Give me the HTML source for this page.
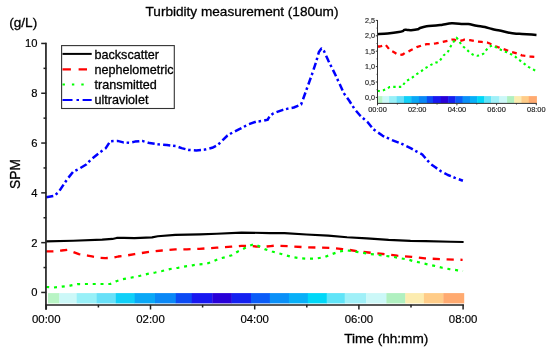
<!DOCTYPE html>
<html><head><meta charset="utf-8"><title>Turbidity measurement</title>
<style>html,body{margin:0;padding:0;background:#fff;}body{width:550px;height:350px;overflow:hidden;}svg{display:block;}</style>
</head><body>
<svg width="550" height="350" viewBox="0 0 550 350">
<rect width="550" height="350" fill="#fff"/>
<text x="242" y="16.1" font-size="13.6" text-anchor="middle" font-family="Liberation Sans, Arial, sans-serif" stroke="#000" stroke-width="0.3" fill="#000">Turbidity measurement (180um)</text>
<text x="23.2" y="27.3" font-size="13.6" text-anchor="middle" font-family="Liberation Sans, Arial, sans-serif" stroke="#000" stroke-width="0.3" fill="#000">(g/L)</text>
<text transform="translate(20.4,174) rotate(-90)" font-size="13.8" text-anchor="middle" font-family="Liberation Sans, Arial, sans-serif" stroke="#000" stroke-width="0.3" fill="#000">SPM</text>
<text x="344.2" y="342.6" font-size="13.6" text-anchor="start" font-family="Liberation Sans, Arial, sans-serif" stroke="#000" stroke-width="0.3" fill="#000">Time (hh:mm)</text>
<rect x="48.00" y="293.10" width="11.60" height="10.30" fill="#b8f4c4"/><rect x="59.30" y="293.10" width="17.70" height="10.30" fill="#ccf8f8"/><rect x="76.70" y="293.10" width="20.30" height="10.30" fill="#98f0f8"/><rect x="96.70" y="293.10" width="19.40" height="10.30" fill="#68e0f8"/><rect x="115.80" y="293.10" width="19.20" height="10.30" fill="#10d0f8"/><rect x="134.70" y="293.10" width="20.60" height="10.30" fill="#0aa8f6"/><rect x="155.00" y="293.10" width="21.10" height="10.30" fill="#0a88f6"/><rect x="175.80" y="293.10" width="16.30" height="10.30" fill="#0c4af4"/><rect x="191.80" y="293.10" width="20.80" height="10.30" fill="#1818f0"/><rect x="212.30" y="293.10" width="19.60" height="10.30" fill="#2800d8"/><rect x="231.60" y="293.10" width="19.60" height="10.30" fill="#1420f0"/><rect x="250.90" y="293.10" width="19.20" height="10.30" fill="#0a5cf8"/><rect x="269.80" y="293.10" width="19.40" height="10.30" fill="#0a90f8"/><rect x="288.90" y="293.10" width="19.20" height="10.30" fill="#08b0f8"/><rect x="307.80" y="293.10" width="19.20" height="10.30" fill="#00d8f8"/><rect x="326.70" y="293.10" width="18.30" height="10.30" fill="#60e4f8"/><rect x="344.70" y="293.10" width="21.70" height="10.30" fill="#a0f0f8"/><rect x="366.10" y="293.10" width="20.60" height="10.30" fill="#ccf8f8"/><rect x="386.40" y="293.10" width="19.20" height="10.30" fill="#b0f0c0"/><rect x="405.30" y="293.10" width="18.90" height="10.30" fill="#fcecb0"/><rect x="423.90" y="293.10" width="19.70" height="10.30" fill="#ffcc88"/><rect x="443.30" y="293.10" width="20.90" height="10.30" fill="#ffaa70"/>
<polyline points="46.2,241.4 73.1,240.7 102.2,239.6 112.4,238.9 116.7,237.9 124.0,237.9 134.5,238.1 152.0,237.4 157.8,236.3 175.3,234.9 200.0,234.4 216.8,233.7 241.5,232.6 270.0,233.1 284.5,233.1 306.4,234.5 328.2,235.6 347.0,237.2 366.8,238.4 388.6,239.9 410.5,240.9 425.5,241.1 450.9,241.7 463.6,242.0" fill="none" stroke="#000" stroke-width="2.1" stroke-linejoin="round"/>
<polyline points="46.2,251.3 52.7,251.3 61.5,250.5 67.3,249.8 73.1,252.0 78.9,254.2 87.6,255.6 92.0,256.4 99.3,257.8 105.1,258.1 112.4,257.8 118.2,256.5 125.1,255.8 134.5,254.1 149.1,251.9 162.2,250.5 175.3,249.4 186.9,249.4 199.4,248.8 216.8,247.7 231.4,246.7 241.5,245.8 247.4,245.8 256.1,246.5 263.4,246.8 270.6,246.1 274.4,245.7 288.9,246.2 304.9,247.2 319.5,247.6 334.0,248.1 342.7,249.1 348.5,249.8 356.6,251.1 368.3,252.5 382.8,254.0 397.4,255.7 411.9,256.9 425.0,258.4 431.2,258.7 446.5,259.4 462.6,259.8" fill="none" stroke="#ff0000" stroke-width="2.3" stroke-dasharray="7.2 6.7" stroke-linejoin="round"/>
<polyline points="46.2,287.0 53.9,287.5 61.7,286.7 70.2,285.6 77.5,284.1 85.5,284.0 93.5,284.0 101.9,284.0 110.2,284.0 116.4,281.2 122.5,279.2 129.0,278.0 136.0,276.8 140.4,275.7 147.6,273.9 155.2,272.5 162.2,271.0 169.7,269.1 177.9,267.8 185.5,266.3 192.5,265.3 199.1,264.3 206.4,263.9 213.2,261.4 219.3,258.6 227.3,256.8 231.8,255.2 237.5,251.7 243.0,249.0 248.8,246.1 253.9,244.2 259.7,246.5 265.5,249.4 272.1,251.5 279.5,253.5 285.7,255.3 292.5,257.1 299.8,258.3 307.8,258.8 316.5,258.5 324.5,257.1 332.5,253.9 339.1,251.6 347.2,250.4 354.5,251.5 362.2,252.8 370.0,254.0 378.5,255.0 385.4,255.9 393.7,256.9 401.2,258.4 409.1,259.8 412.6,261.0 420.6,262.7 428.3,264.5 434.6,265.9 442.3,267.8 449.6,269.1 457.5,270.3 463.0,271.0" fill="none" stroke="#00ff00" stroke-width="2.2" stroke-dasharray="3 4.8" stroke-linejoin="round"/>
<polyline points="46.2,197.3 54.2,195.8 58.5,192.2 62.9,185.6 67.3,179.1 73.1,171.8 78.9,168.9 86.2,164.5 92.0,158.7 99.3,152.9 105.8,148.2 110.2,141.3 117.5,140.9 123.3,142.4 129.1,142.8 134.9,141.6 142.2,140.9 149.5,143.1 158.2,144.3 166.9,145.0 175.7,146.0 181.6,148.1 188.9,150.0 196.2,150.4 204.9,149.6 212.2,147.8 218.0,144.9 222.4,140.5 227.5,135.5 232.5,132.5 239.8,128.9 248.6,124.3 256.0,121.7 261.8,121.0 267.6,119.8 269.8,115.9 273.5,113.3 282.2,110.1 288.0,108.6 293.8,107.5 301.1,104.5 303.4,98.3 307.7,86.3 312.0,74.3 316.3,61.4 318.9,52.0 321.4,48.6 324.0,51.1 328.3,60.6 334.3,72.6 339.5,83.7 343.7,93.0 349.1,100.5 354.7,109.2 360.3,115.7 367.7,122.2 373.4,129.3 382.7,135.8 392.0,140.1 401.2,143.6 410.6,148.2 416.4,151.4 422.1,154.3 426.4,159.3 430.7,164.0 435.0,167.1 440.7,171.1 447.9,175.0 455.0,177.9 462.9,180.7" fill="none" stroke="#0000ff" stroke-width="2.5" stroke-dasharray="7.2 2.8 2.5 3.2" stroke-linejoin="round"/>
<line x1="45.95" y1="42.8" x2="45.95" y2="309.8" stroke="#222" stroke-width="1.7"/>
<line x1="45.5" y1="305.0" x2="463.9" y2="305.0" stroke="#222" stroke-width="1.7"/>
<line x1="41.2" y1="292.45" x2="46.3" y2="292.45" stroke="#222" stroke-width="1.5"/>
<text x="37.4" y="296.35" font-size="11.2" text-anchor="end" font-family="Liberation Sans, Arial, sans-serif" stroke="#000" stroke-width="0.18" fill="#000">0</text>
<line x1="41.2" y1="242.65" x2="46.3" y2="242.65" stroke="#222" stroke-width="1.5"/>
<text x="37.4" y="246.55" font-size="11.2" text-anchor="end" font-family="Liberation Sans, Arial, sans-serif" stroke="#000" stroke-width="0.18" fill="#000">2</text>
<line x1="41.2" y1="192.85" x2="46.3" y2="192.85" stroke="#222" stroke-width="1.5"/>
<text x="37.4" y="196.75" font-size="11.2" text-anchor="end" font-family="Liberation Sans, Arial, sans-serif" stroke="#000" stroke-width="0.18" fill="#000">4</text>
<line x1="41.2" y1="143.05" x2="46.3" y2="143.05" stroke="#222" stroke-width="1.5"/>
<text x="37.4" y="146.95" font-size="11.2" text-anchor="end" font-family="Liberation Sans, Arial, sans-serif" stroke="#000" stroke-width="0.18" fill="#000">6</text>
<line x1="41.2" y1="93.25" x2="46.3" y2="93.25" stroke="#222" stroke-width="1.5"/>
<text x="37.4" y="97.15" font-size="11.2" text-anchor="end" font-family="Liberation Sans, Arial, sans-serif" stroke="#000" stroke-width="0.18" fill="#000">8</text>
<line x1="41.2" y1="43.45" x2="46.3" y2="43.45" stroke="#222" stroke-width="1.5"/>
<text x="37.4" y="47.35" font-size="11.2" text-anchor="end" font-family="Liberation Sans, Arial, sans-serif" stroke="#000" stroke-width="0.18" fill="#000">10</text>
<line x1="43.5" y1="267.55" x2="46.3" y2="267.55" stroke="#222" stroke-width="1.5"/>
<line x1="43.5" y1="217.75" x2="46.3" y2="217.75" stroke="#222" stroke-width="1.5"/>
<line x1="43.5" y1="167.95" x2="46.3" y2="167.95" stroke="#222" stroke-width="1.5"/>
<line x1="43.5" y1="118.15" x2="46.3" y2="118.15" stroke="#222" stroke-width="1.5"/>
<line x1="43.5" y1="68.35" x2="46.3" y2="68.35" stroke="#222" stroke-width="1.5"/>
<line x1="46.30" y1="304.8" x2="46.30" y2="309.5" stroke="#222" stroke-width="1.5"/>
<text x="46.30" y="322.9" font-size="11.4" text-anchor="middle" font-family="Liberation Sans, Arial, sans-serif" stroke="#000" stroke-width="0.18" fill="#000">00:00</text>
<line x1="98.40" y1="304.8" x2="98.40" y2="307.5" stroke="#222" stroke-width="1.5"/>
<line x1="150.50" y1="304.8" x2="150.50" y2="309.5" stroke="#222" stroke-width="1.5"/>
<text x="150.50" y="322.9" font-size="11.4" text-anchor="middle" font-family="Liberation Sans, Arial, sans-serif" stroke="#000" stroke-width="0.18" fill="#000">02:00</text>
<line x1="202.60" y1="304.8" x2="202.60" y2="307.5" stroke="#222" stroke-width="1.5"/>
<line x1="254.70" y1="304.8" x2="254.70" y2="309.5" stroke="#222" stroke-width="1.5"/>
<text x="254.70" y="322.9" font-size="11.4" text-anchor="middle" font-family="Liberation Sans, Arial, sans-serif" stroke="#000" stroke-width="0.18" fill="#000">04:00</text>
<line x1="306.80" y1="304.8" x2="306.80" y2="307.5" stroke="#222" stroke-width="1.5"/>
<line x1="358.90" y1="304.8" x2="358.90" y2="309.5" stroke="#222" stroke-width="1.5"/>
<text x="358.90" y="322.9" font-size="11.4" text-anchor="middle" font-family="Liberation Sans, Arial, sans-serif" stroke="#000" stroke-width="0.18" fill="#000">06:00</text>
<line x1="411.00" y1="304.8" x2="411.00" y2="307.5" stroke="#222" stroke-width="1.5"/>
<line x1="463.10" y1="304.8" x2="463.10" y2="309.5" stroke="#222" stroke-width="1.5"/>
<text x="463.10" y="322.9" font-size="11.4" text-anchor="middle" font-family="Liberation Sans, Arial, sans-serif" stroke="#000" stroke-width="0.18" fill="#000">08:00</text>
<rect x="61.6" y="45.6" width="112.7" height="62.9" fill="none" stroke="#333" stroke-width="1.1"/>
<line x1="62.5" y1="53.9" x2="91.7" y2="53.9" stroke="#000" stroke-width="2"/>
<text x="94.5" y="58.6" font-size="12.6" font-family="Liberation Sans, Arial, sans-serif" stroke="#000" stroke-width="0.3" fill="#000">backscatter</text>
<line x1="62.5" y1="69.4" x2="91.7" y2="69.4" stroke="#ff0000" stroke-width="2.2" stroke-dasharray="8.4 7.7"/>
<text x="94.5" y="74.1" font-size="12.6" font-family="Liberation Sans, Arial, sans-serif" stroke="#000" stroke-width="0.3" fill="#000">nephelometric</text>
<line x1="62.5" y1="84.5" x2="85.0" y2="84.5" stroke="#00ff00" stroke-width="2.1" stroke-dasharray="2.4 7"/>
<text x="94.5" y="89.2" font-size="12.6" font-family="Liberation Sans, Arial, sans-serif" stroke="#000" stroke-width="0.3" fill="#000">transmitted</text>
<line x1="62.5" y1="100.0" x2="91.7" y2="100.0" stroke="#0000ff" stroke-width="2.2" stroke-dasharray="10 4 2.5 3.6"/>
<text x="94.5" y="104.4" font-size="12.6" font-family="Liberation Sans, Arial, sans-serif" stroke="#000" stroke-width="0.3" fill="#000">ultraviolet</text>
<rect x="378.15" y="96.10" width="4.61" height="7.00" fill="#b8f4c4"/><rect x="382.45" y="96.10" width="6.93" height="7.00" fill="#ccf8f8"/><rect x="389.08" y="96.10" width="7.92" height="7.00" fill="#98f0f8"/><rect x="396.70" y="96.10" width="7.58" height="7.00" fill="#68e0f8"/><rect x="403.98" y="96.10" width="7.50" height="7.00" fill="#10d0f8"/><rect x="411.18" y="96.10" width="8.03" height="7.00" fill="#0aa8f6"/><rect x="418.91" y="96.10" width="8.22" height="7.00" fill="#0a88f6"/><rect x="426.84" y="96.10" width="6.40" height="7.00" fill="#0c4af4"/><rect x="432.94" y="96.10" width="8.11" height="7.00" fill="#1818f0"/><rect x="440.75" y="96.10" width="7.65" height="7.00" fill="#2800d8"/><rect x="448.10" y="96.10" width="7.65" height="7.00" fill="#1420f0"/><rect x="455.45" y="96.10" width="7.50" height="7.00" fill="#0a5cf8"/><rect x="462.65" y="96.10" width="7.58" height="7.00" fill="#0a90f8"/><rect x="469.93" y="96.10" width="7.50" height="7.00" fill="#08b0f8"/><rect x="477.13" y="96.10" width="7.50" height="7.00" fill="#00d8f8"/><rect x="484.33" y="96.10" width="7.16" height="7.00" fill="#60e4f8"/><rect x="491.19" y="96.10" width="8.45" height="7.00" fill="#a0f0f8"/><rect x="499.34" y="96.10" width="8.03" height="7.00" fill="#ccf8f8"/><rect x="507.08" y="96.10" width="7.50" height="7.00" fill="#b0f0c0"/><rect x="514.28" y="96.10" width="7.39" height="7.00" fill="#fcecb0"/><rect x="521.36" y="96.10" width="7.69" height="7.00" fill="#ffcc88"/><rect x="528.76" y="96.10" width="8.15" height="7.00" fill="#ffaa70"/>
<path d="M377.46,34.25 C379.17,34.11 384.15,33.76 387.71,33.39 C391.27,33.02 396.30,32.40 398.80,32.03 C401.29,31.66 401.76,31.51 402.68,31.16 C403.60,30.81 403.59,30.13 404.32,29.92 C405.06,29.72 405.97,29.88 407.10,29.92 C408.23,29.97 409.33,30.27 411.10,30.17 C412.88,30.07 416.29,29.68 417.77,29.31 C419.25,28.93 418.50,28.46 419.98,27.95 C421.46,27.43 423.97,26.61 426.65,26.21 C429.33,25.82 433.42,25.84 436.06,25.60 C438.69,25.35 439.82,25.10 442.46,24.73 C445.10,24.36 448.49,23.49 451.87,23.37 C455.25,23.24 460.00,23.88 462.73,23.99 C465.46,24.09 465.94,23.70 468.25,23.99 C470.57,24.28 473.82,25.20 476.60,25.72 C479.37,26.23 482.33,26.52 484.90,27.08 C487.48,27.64 489.62,28.48 492.07,29.06 C494.52,29.64 496.97,29.99 499.61,30.54 C502.25,31.10 505.14,31.88 507.92,32.40 C510.69,32.91 513.92,33.39 516.26,33.64 C518.60,33.88 519.41,33.72 521.97,33.88 C524.54,34.05 529.23,34.44 531.65,34.62 C534.07,34.81 535.68,34.93 536.49,35.00" fill="none" stroke="#000" stroke-width="2.5" stroke-linejoin="round"/>
<polyline points="377.5,46.5 379.9,46.5 383.3,45.5 385.5,44.6 387.7,47.4 389.9,50.1 393.2,51.8 394.9,52.8 397.7,54.5 399.9,54.9 402.7,54.5 404.9,52.9 407.5,52.1 411.1,50.0 416.7,47.2 421.7,45.5 426.6,44.1 431.1,44.1 435.8,43.4 442.5,42.0 448.0,40.8 451.9,39.7 454.1,39.7 457.4,40.6 460.2,40.9 463.0,40.1 464.4,39.6 469.9,40.2 476.0,41.4 481.6,41.9 487.1,42.5 490.4,43.8 492.6,44.6 495.7,46.3 500.2,48.0 505.7,49.8 511.3,51.9 516.8,53.4 521.8,55.3 524.1,55.7 530.0,56.5 536.1,57.0" fill="none" stroke="#ff0000" stroke-width="2.3" stroke-dasharray="4.8 4.2" stroke-linejoin="round"/>
<polyline points="377.5,90.7 380.4,91.3 383.4,90.3 386.6,88.9 389.4,87.1 392.4,86.9 395.5,86.9 398.7,86.9 401.8,86.9 404.2,83.5 406.5,81.0 409.0,79.5 411.7,78.0 413.4,76.7 416.1,74.5 419.0,72.7 421.7,70.9 424.5,68.5 427.6,66.9 430.5,65.1 433.2,63.8 435.7,62.6 438.5,62.1 441.1,59.0 443.4,55.5 446.5,53.3 448.2,51.3 450.3,47.0 452.4,43.7 454.7,40.1 456.6,37.7 458.8,40.6 461.0,44.1 463.5,46.7 466.3,49.2 468.7,51.4 471.3,53.7 474.1,55.2 477.1,55.8 480.4,55.4 483.5,53.7 486.5,49.7 489.1,46.9 492.1,45.4 494.9,46.7 497.9,48.4 500.8,49.8 504.1,51.1 506.7,52.2 509.9,53.4 512.7,55.3 515.7,57.0 517.1,58.5 520.1,60.6 523.0,62.8 525.4,64.6 528.4,66.9 531.2,68.5 534.2,70.0 536.3,70.9" fill="none" stroke="#00ff00" stroke-width="2.1" stroke-dasharray="2.4 3.2" stroke-linejoin="round"/>
<line x1="377.5" y1="20" x2="377.5" y2="104" stroke="#333" stroke-width="1"/>
<line x1="377" y1="103.4" x2="536.8" y2="103.4" stroke="#333" stroke-width="1"/>
<line x1="375.8" y1="97.40" x2="377.5" y2="97.40" stroke="#333" stroke-width="1"/>
<text x="375" y="99.90" font-size="7.2" text-anchor="end" font-family="Liberation Sans, Arial, sans-serif" stroke="#222" stroke-width="0.15" fill="#222">0,0</text>
<line x1="375.8" y1="82.00" x2="377.5" y2="82.00" stroke="#333" stroke-width="1"/>
<text x="375" y="84.50" font-size="7.2" text-anchor="end" font-family="Liberation Sans, Arial, sans-serif" stroke="#222" stroke-width="0.15" fill="#222">0,5</text>
<line x1="375.8" y1="66.60" x2="377.5" y2="66.60" stroke="#333" stroke-width="1"/>
<text x="375" y="69.10" font-size="7.2" text-anchor="end" font-family="Liberation Sans, Arial, sans-serif" stroke="#222" stroke-width="0.15" fill="#222">1,0</text>
<line x1="375.8" y1="51.20" x2="377.5" y2="51.20" stroke="#333" stroke-width="1"/>
<text x="375" y="53.70" font-size="7.2" text-anchor="end" font-family="Liberation Sans, Arial, sans-serif" stroke="#222" stroke-width="0.15" fill="#222">1,5</text>
<line x1="375.8" y1="35.80" x2="377.5" y2="35.80" stroke="#333" stroke-width="1"/>
<text x="375" y="38.30" font-size="7.2" text-anchor="end" font-family="Liberation Sans, Arial, sans-serif" stroke="#222" stroke-width="0.15" fill="#222">2,0</text>
<line x1="375.8" y1="20.40" x2="377.5" y2="20.40" stroke="#333" stroke-width="1"/>
<text x="375" y="22.90" font-size="7.2" text-anchor="end" font-family="Liberation Sans, Arial, sans-serif" stroke="#222" stroke-width="0.15" fill="#222">2,5</text>
<line x1="376.6" y1="89.70" x2="377.5" y2="89.70" stroke="#333" stroke-width="1"/>
<line x1="376.6" y1="74.30" x2="377.5" y2="74.30" stroke="#333" stroke-width="1"/>
<line x1="376.6" y1="58.90" x2="377.5" y2="58.90" stroke="#333" stroke-width="1"/>
<line x1="376.6" y1="43.50" x2="377.5" y2="43.50" stroke="#333" stroke-width="1"/>
<line x1="376.6" y1="28.10" x2="377.5" y2="28.10" stroke="#333" stroke-width="1"/>
<line x1="377.50" y1="103.4" x2="377.50" y2="105.30" stroke="#333" stroke-width="1"/>
<text x="377.50" y="111.8" font-size="7.4" text-anchor="middle" font-family="Liberation Sans, Arial, sans-serif" stroke="#222" stroke-width="0.15" fill="#222">00:00</text>
<line x1="397.35" y1="103.4" x2="397.35" y2="104.50" stroke="#333" stroke-width="1"/>
<line x1="417.20" y1="103.4" x2="417.20" y2="105.30" stroke="#333" stroke-width="1"/>
<text x="417.20" y="111.8" font-size="7.4" text-anchor="middle" font-family="Liberation Sans, Arial, sans-serif" stroke="#222" stroke-width="0.15" fill="#222">02:00</text>
<line x1="437.05" y1="103.4" x2="437.05" y2="104.50" stroke="#333" stroke-width="1"/>
<line x1="456.90" y1="103.4" x2="456.90" y2="105.30" stroke="#333" stroke-width="1"/>
<text x="456.90" y="111.8" font-size="7.4" text-anchor="middle" font-family="Liberation Sans, Arial, sans-serif" stroke="#222" stroke-width="0.15" fill="#222">04:00</text>
<line x1="476.75" y1="103.4" x2="476.75" y2="104.50" stroke="#333" stroke-width="1"/>
<line x1="496.60" y1="103.4" x2="496.60" y2="105.30" stroke="#333" stroke-width="1"/>
<text x="496.60" y="111.8" font-size="7.4" text-anchor="middle" font-family="Liberation Sans, Arial, sans-serif" stroke="#222" stroke-width="0.15" fill="#222">06:00</text>
<line x1="516.45" y1="103.4" x2="516.45" y2="104.50" stroke="#333" stroke-width="1"/>
<line x1="536.30" y1="103.4" x2="536.30" y2="105.30" stroke="#333" stroke-width="1"/>
<text x="536.30" y="111.8" font-size="7.4" text-anchor="middle" font-family="Liberation Sans, Arial, sans-serif" stroke="#222" stroke-width="0.15" fill="#222">08:00</text>
</svg>
</body></html>
